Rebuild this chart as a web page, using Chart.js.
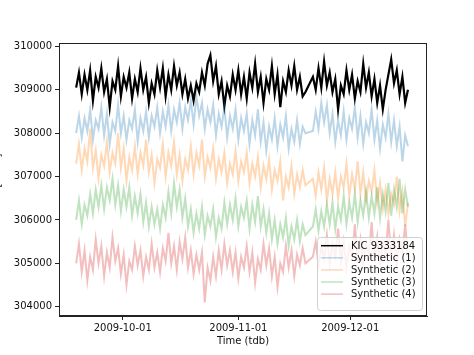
<!DOCTYPE html>
<html>
<head>
<meta charset="utf-8">
<script src="https://cdn.jsdelivr.net/npm/chart.js@4/dist/chart.umd.min.js"></script>
<style>
html,body{margin:0;padding:0;background:#fff;overflow:hidden;}
#wrap{position:absolute;left:0;top:0;width:474px;height:355px;}
</style>
</head>
<body>
<div id="wrap"><canvas id="c" width="474" height="355"></canvas></div>
<script>
// time in days since 2009-09-01 (tdb)
const timeDays = [17.5,18.25,19,19.75,20.5,21.25,22,22.75,23.5,24.25,25,25.75,26.5,27.25,28,28.75,29.5,30.25,31,31.75,32.5,33.25,34,34.75,35.5,36.25,37,37.75,38.5,39.25,40,40.75,41.5,42.25,43,43.75,44.5,45.25,46,46.75,47.5,48.25,49,49.75,50.5,51.25,52,52.75,53.5,54.25,55,55.75,56.5,57.25,58,58.75,59.5,60.25,61,61.75,62.5,63.25,64,64.75,65.5,66.25,67,67.75,68.5,69.25,70,70.75,71.5,72.25,73,73.75,74.5,75.25,76,76.75,77.5,78.25,79,
81,81.75,82.5,83.25,84,84.75,85.5,86.25,87,87.75,88.5,89.25,90,90.75,91.5,92.25,93,93.75,94.5,95.25,96,96.75,97.5,98.25,99,99.75,100.5,101.25,102,102.75,103.5,104.25,105,105.75,106.5];

const kic = [309050,309400,308900,309350,309000,309450,308750,309300,309050,309500,308950,309250,308600,309200,309000,309550,308850,309300,309050,309400,308800,309250,308950,309500,309000,309300,308700,309150,308900,309450,309050,309500,308850,309350,309000,309550,309100,309400,308900,309250,308800,309100,308750,309150,308950,309400,309100,309600,309800,309200,309550,308900,309200,308620,309100,308850,309350,309000,309450,308900,309300,308800,309400,309050,309600,308950,309300,308700,309250,309000,309550,308900,309350,308600,309200,308950,309450,309100,309550,309000,309300,308850,308950,
309300,309000,309500,309050,309650,309100,309400,308950,309250,308550,309100,308900,309450,309000,309350,308800,309200,308950,309600,309050,309400,308850,309250,308700,309100,308550,309000,309350,309700,309150,309450,308900,309300,308700,309000];

const syn1 = [308000,308400,307900,308350,308050,308550,307850,308300,308100,308600,307950,308450,307750,308250,308050,308650,308000,308400,307850,308300,308100,308550,307800,308350,308050,308500,307900,308400,308150,308600,308000,308500,308150,308650,308050,308550,308250,308700,308100,308600,308300,308750,308200,308850,308400,308700,308100,308550,308250,308650,307950,308450,308150,308600,307900,308400,308100,308550,307850,308350,308050,308450,307750,308300,307950,308550,307800,308250,307600,308150,307850,308350,307700,308200,307900,308400,307650,308100,307800,308300,307750,308150,308000,
308050,308500,308100,308700,308250,308650,308000,308450,307800,308300,307950,308500,307850,308350,308100,308600,307900,308400,307750,308250,308000,308550,307850,308300,307650,308200,307900,308450,307800,308300,307700,308150,307350,307950,307700];

const syn2 = [307300,307750,307150,307650,307350,308100,307200,307600,306950,307500,307250,307800,307100,307550,307300,308000,307200,307650,306900,307450,307150,307700,307050,307550,307250,307850,307100,307500,306850,307400,307200,307750,307000,307550,307250,307800,307050,307500,306900,307400,307150,307700,307050,307550,307250,307850,307000,307450,307200,307650,306950,307400,307100,307550,306850,307300,307050,307600,306900,307350,307100,307550,306850,307300,307000,307450,306750,307250,306950,307400,306700,307150,306900,307350,306450,307000,306750,307250,306600,307050,306750,307150,306800,
306950,306550,307100,306700,307200,306450,306950,306600,307100,306500,307000,306750,307300,306550,307050,306700,307350,306600,307100,306450,306900,306650,307150,306400,306850,306250,306700,306150,306600,306350,307000,306200,306650,305850,306400];

const syn3 = [306000,306450,305900,306350,306100,306600,306150,306700,306300,306800,306250,306750,306450,306950,306350,306800,306200,306700,306300,306750,306100,306550,306150,306600,305950,306400,305850,306300,305900,306250,305800,306350,306050,306650,306150,306850,306300,306700,306050,306500,305850,306250,305700,306150,305800,306300,305650,306100,305850,306250,305600,306050,305800,306400,305900,306350,306000,306500,305850,306300,306050,306450,305800,306350,305950,306550,305850,306250,305700,306150,305550,306000,305450,305900,305600,306050,305400,305850,305550,306000,305500,305900,305650,
305850,306250,305750,306200,305850,306350,305900,306400,305800,306300,306000,306550,305900,306400,306050,306600,305950,306450,306100,306650,306050,306550,306150,306750,306050,306600,306200,306850,306100,306700,306300,306950,306150,306700,306300];

const syn4 = [305000,305450,304800,305300,304600,305150,304850,305550,305000,305400,304700,305250,304900,305600,305050,305350,304750,305200,304500,305050,304850,305400,304950,305300,304700,305150,304850,305450,304900,305250,304800,305350,305050,305700,305000,305400,304850,305500,305100,305600,304900,305300,304750,305200,304850,305250,304100,304900,304600,305150,304700,305300,304850,305450,304950,305300,304800,305250,304650,305150,304900,305400,304800,305250,304550,305100,304850,305450,304950,305350,304700,305150,304450,305000,304800,305400,304900,305300,304700,305200,304950,305350,305000,
305150,305500,304950,305400,305100,305650,305000,305450,305150,305800,305050,305500,304900,305400,305150,305900,305100,305550,304950,305450,305200,305950,305050,305600,305000,305500,305200,306000,305100,305650,305000,305550,305250,305900,305150];

const seriesLabels = ['KIC 9333184','Synthetic (1)','Synthetic (2)','Synthetic (3)','Synthetic (4)'];
const seriesValues = [kic, syn1, syn2, syn3, syn4];
const seriesColors = ['#000000','rgba(31,119,180,0.3)','rgba(255,127,14,0.3)','rgba(44,160,44,0.3)','rgba(214,39,40,0.3)'];

const xTickValues = [30, 61, 91];
const xTickLabels = ['2009-10-01','2009-11-01','2009-12-01'];
const yTickValues = [304000,305000,306000,307000,308000,309000,310000];
const xTitle = 'Time (tdb)';
const yTitle = 'Flux [e\u207Bs\u207B\u00B9]';

const FONT = 'DejaVu Sans';
Chart.defaults.font.family = FONT;
Chart.defaults.font.size = 10;
Chart.defaults.color = '#111';

const frame = {
  id: 'frame',
  afterDatasetsDraw(chart) {
    const {ctx, chartArea: a} = chart;
    ctx.save();
    ctx.strokeStyle = '#222';
    ctx.lineWidth = 1;
    ctx.strokeRect(Math.round(a.left) + 0.5, Math.round(a.top) + 0.5, Math.round(a.right - a.left) - 1, Math.round(a.bottom - a.top) - 1);
    ctx.restore();
  },
  afterDraw(chart) {
    const {ctx, chartArea: a} = chart;
    ctx.save();
    // y-axis title (mostly cut off by the canvas edge, as in the reference)
    ctx.translate(-0.5, (a.top + a.bottom) / 2 + 3);
    ctx.rotate(-Math.PI / 2);
    ctx.font = '10px "' + FONT + '"';
    ctx.fillStyle = '#111';
    ctx.textAlign = 'center';
    ctx.textBaseline = 'alphabetic';
    ctx.fillText(yTitle, 0, 0);
    ctx.restore();

    // legend box, lower right inside axes
    const ds = chart.data.datasets;
    const bx = 317, by = 237, bw = 105, bh = 73;
    ctx.save();
    ctx.beginPath();
    if (ctx.roundRect) ctx.roundRect(bx + 0.5, by + 0.5, bw, bh, 3); else ctx.rect(bx + 0.5, by + 0.5, bw, bh);
    ctx.fillStyle = 'rgba(255,255,255,0.8)';
    ctx.fill();
    ctx.strokeStyle = '#d0d0d0';
    ctx.lineWidth = 1;
    ctx.stroke();
    ctx.font = '10px "' + FONT + '"';
    ctx.textBaseline = 'middle';
    ctx.textAlign = 'left';
    ds.forEach((d, i) => {
      const y = 245.7 + i * 12.1;
      ctx.beginPath();
      ctx.moveTo(321, y);
      ctx.lineTo(343, y);
      ctx.strokeStyle = d.borderColor;
      ctx.lineWidth = 1.5;
      ctx.stroke();
      ctx.fillStyle = '#111';
      ctx.fillText(d.label, 351, y + 0.5);
    });
    ctx.restore();
  }
};

const datasets = seriesLabels.map((lab, i) => ({
  label: lab,
  data: timeDays.map((t, k) => ({x: t, y: seriesValues[i][k]})),
  borderColor: seriesColors[i],
  backgroundColor: seriesColors[i],
  borderWidth: i === 0 ? 2.2 : 2,
  pointRadius: 0,
  tension: 0,
  fill: false,
  order: 5 - i
}));

new Chart(document.getElementById('c'), {
  type: 'line',
  data: {datasets},
  plugins: [frame],
  options: {
    responsive: false,
    devicePixelRatio: 1,
    animation: false,
    events: [],
    layout: {padding: {left: 0, right: 47, top: 43, bottom: 0}},
    plugins: {legend: {display: false}, tooltip: {enabled: false}},
    scales: {
      x: {
        type: 'linear',
        min: 12.9,
        max: 111.6,
        afterBuildTicks(s) { s.ticks = xTickValues.map(v => ({value: v})); },
        afterFit(s) { s.height = 39; },
        ticks: {
          autoSkip: false,
          maxRotation: 0,
          padding: 2,
          color: '#111',
          font: {size: 10},
          callback(v) { const i = xTickValues.indexOf(v); return i >= 0 ? xTickLabels[i] : ''; }
        },
        grid: {display: true, drawOnChartArea: false, drawTicks: true, tickLength: 4, color: '#222'},
        border: {display: true, color: '#222'},
        title: {display: true, text: xTitle, color: '#111', font: {size: 10}, padding: {top: 0, bottom: 8}}
      },
      y: {
        type: 'linear',
        min: 303785,
        max: 310080,
        afterBuildTicks(s) { s.ticks = yTickValues.map(v => ({value: v})); },
        afterFit(s) { s.width = 59; },
        ticks: {
          autoSkip: false,
          padding: 3,
          color: '#111',
          font: {size: 10},
          callback(v) { return String(v); }
        },
        grid: {display: true, drawOnChartArea: false, drawTicks: true, tickLength: 4, color: '#222'},
        border: {display: true, color: '#222'}
      }
    }
  }
});
</script>
</body>
</html>
